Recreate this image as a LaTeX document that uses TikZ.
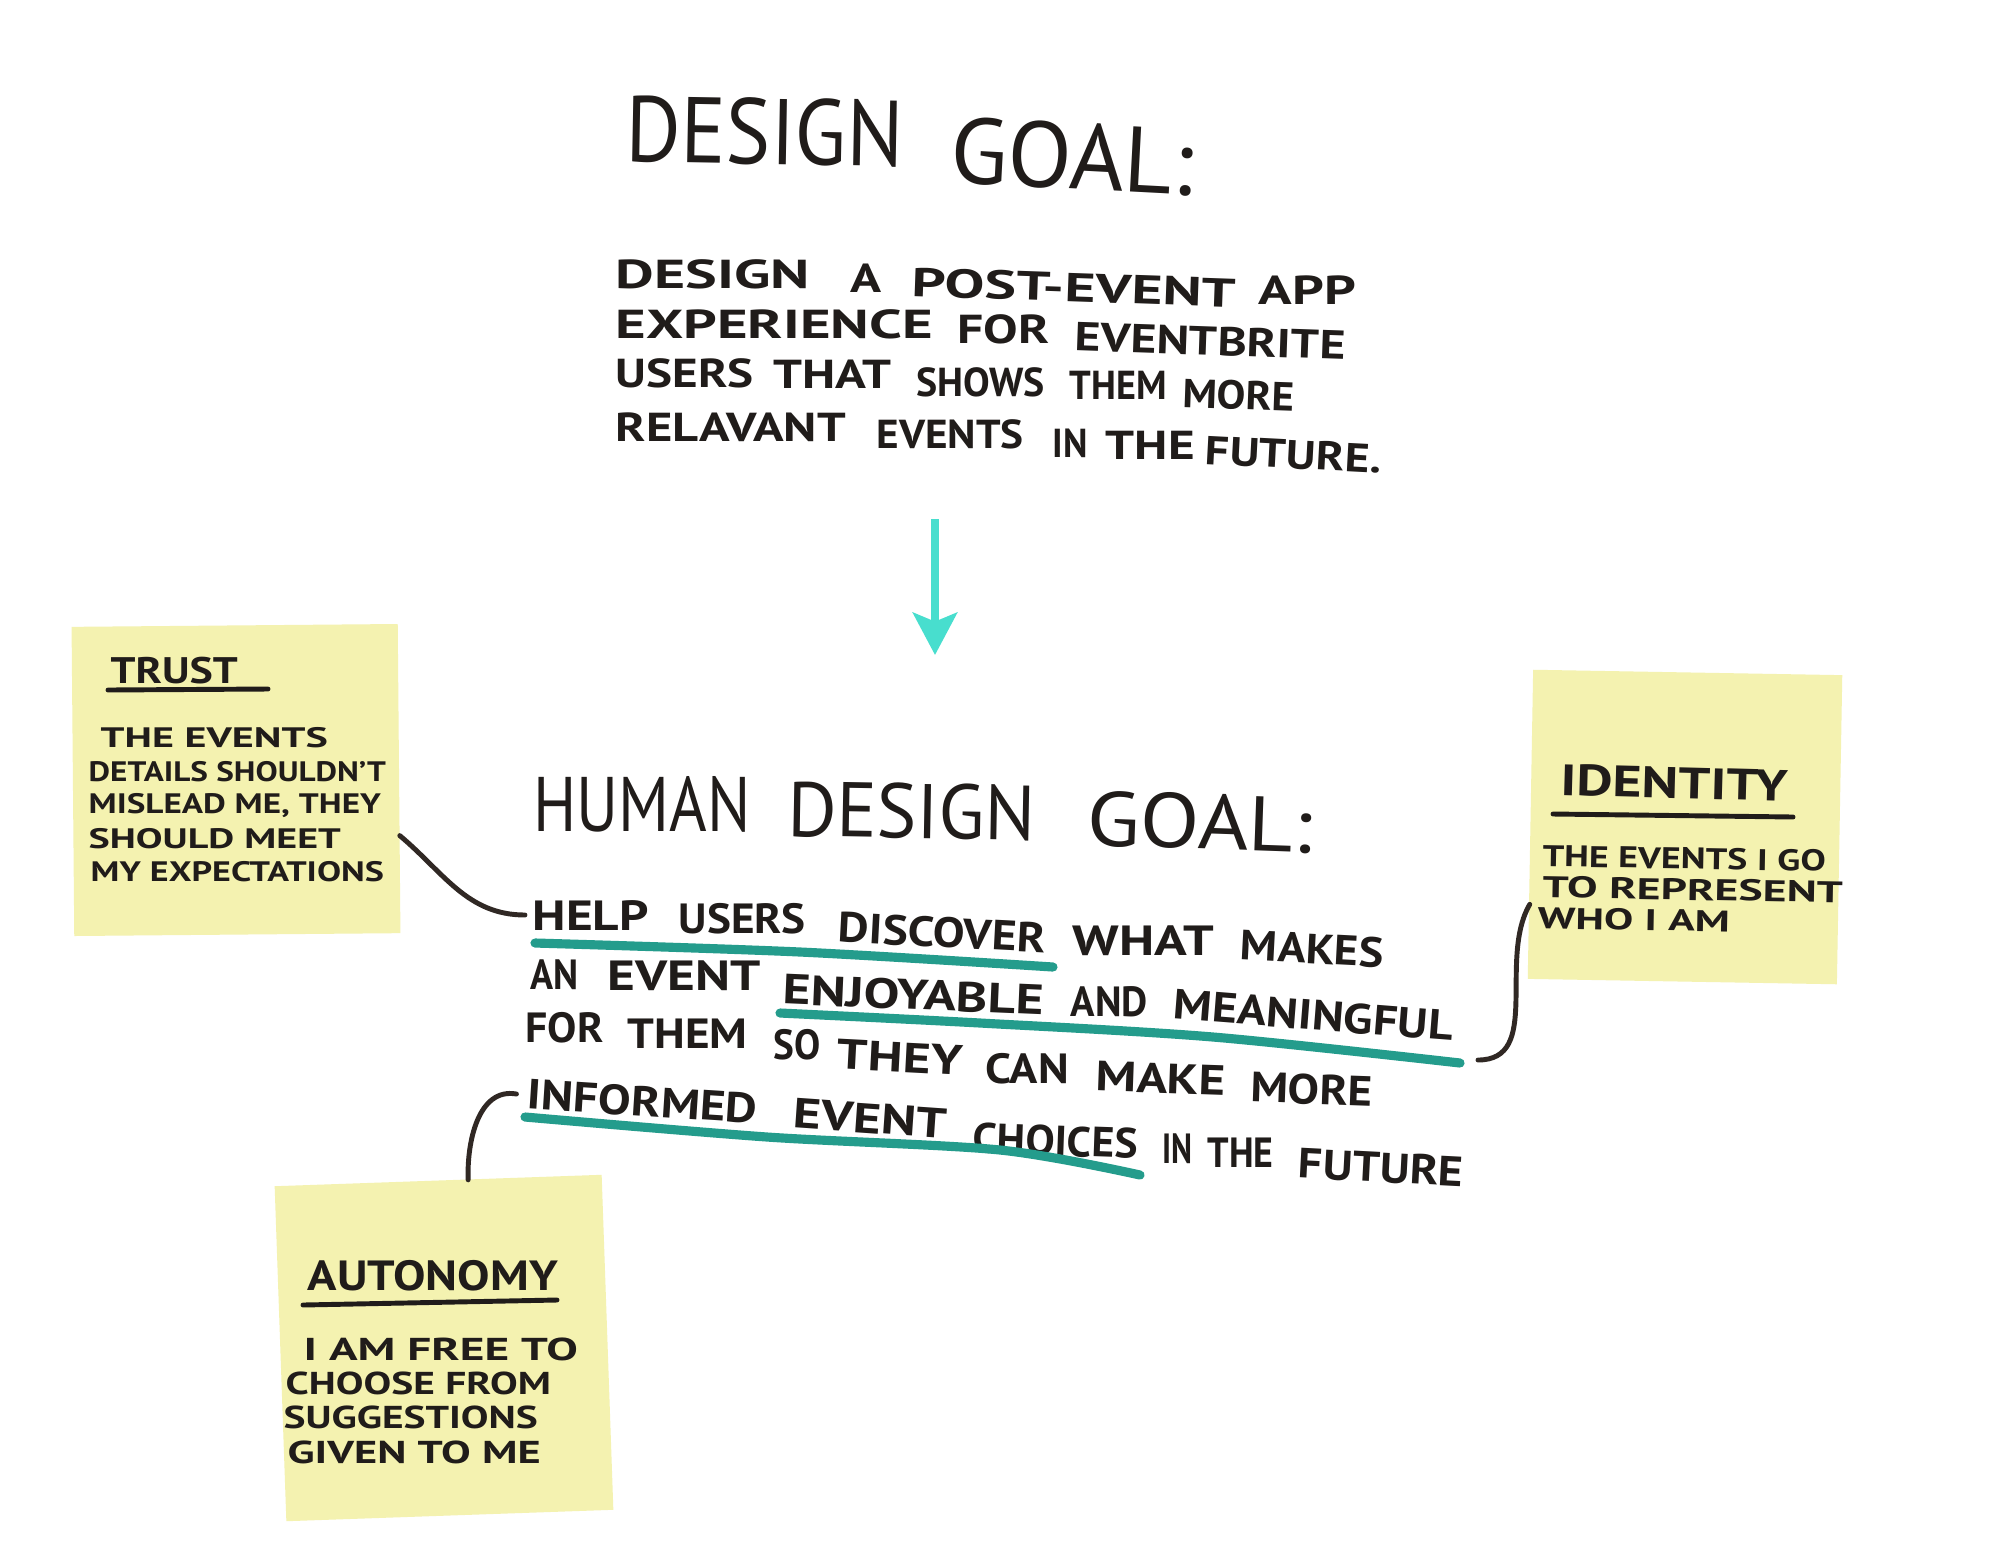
\documentclass[tikz,border=0pt]{standalone}
\usepackage{fontspec}
\setmainfont{PT Sans}
\usepackage{graphicx}
\usetikzlibrary{arrows.meta}

\definecolor{ink}{RGB}{32,28,26}
\definecolor{wire}{RGB}{48,40,36}
\definecolor{postit}{RGB}{244,242,176}
\definecolor{marker}{RGB}{36,156,140}
\definecolor{aqua}{RGB}{72,222,206}

% squeeze or stretch a handwritten word to its measured width
\newcommand{\fitw}[2]{\resizebox{#1}{\height}{#2}}

\begin{document}
\begin{tikzpicture}[x=0.01cm,y=-0.01cm,
    txt/.style={inner sep=0pt, anchor=west, text=ink},
    head/.style={txt, font=\fontsize{22}{26}\selectfont},
    body/.style={txt, font=\bfseries\fontsize{12}{14}\selectfont},
    para/.style={txt, font=\bfseries\fontsize{11.5}{14}\selectfont},
    memo/.style={txt, font=\bfseries\fontsize{8}{10}\selectfont},
    memotitle/.style={txt, font=\bfseries\fontsize{12}{14}\selectfont},
    note/.style={fill=postit, inner sep=0pt},
    bar/.style={draw=ink, line width=1.4pt, line cap=round},
    hl/.style={draw=marker, line width=2.6pt, line cap=round},
    wirel/.style={draw=wire, line width=1.4pt, line cap=round},
    flow/.style={draw=aqua, line width=2.3pt, -{Stealth[length=12pt, width=12.5pt, inset=2.5pt]}}]

\useasboundingbox[fill=white] (0, 0) rectangle (2000, 1563);

% design goal

\node[head, font=\fontsize{26.5}{30}\selectfont, rotate=-1] (goal1) at (625, 129) {\fitw{2.78cm}{DESIGN}};
\node[head, font=\fontsize{26.5}{30}\selectfont, rotate=-3] (goal2) at (950, 150) {\fitw{2.43cm}{GOAL:}};

\node[para] (pdesign) at (615, 274) {\fitw{1.94cm}{DESIGN}};
\node[para] (pa) at (850, 278) {\fitw{0.31cm}{A}};
\node[para, rotate=-2] (ppost) at (911, 282) {\fitw{3.24cm}{POST-EVENT}};
\node[para] (papp) at (1258, 290) {\fitw{0.97cm}{APP}};

\node[para] (pexp) at (615, 324) {\fitw{3.17cm}{EXPERIENCE}};
\node[para] (pfor) at (957, 329) {\fitw{0.92cm}{FOR}};
\node[para, rotate=-2] (pbrite) at (1074, 336) {\fitw{2.71cm}{EVENTBRITE}};

\node[para] (pusers) at (615, 373) {\fitw{1.38cm}{USERS}};
\node[para] (pthat) at (773, 374) {\fitw{1.18cm}{THAT}};
\node[para] (pshows) at (916, 382) {\fitw{1.28cm}{SHOWS}};
\node[para] (pthem) at (1069, 385) {\fitw{0.97cm}{THEM}};
\node[para, rotate=-2] (pmore) at (1182, 393) {\fitw{1.12cm}{MORE}};

\node[para] (prel) at (615, 427) {\fitw{2.30cm}{RELAVANT}};
\node[para] (pevents) at (876, 434) {\fitw{1.47cm}{EVENTS}};
\node[para] (pin) at (1052, 443) {\fitw{0.35cm}{IN}};
\node[para] (pthe) at (1105, 445) {\fitw{0.89cm}{THE}};
\node[para, rotate=-3] (pfuture) at (1205, 450) {\fitw{1.76cm}{FUTURE.}};

\coordinate (arrtop) at (935, 519);
\coordinate (arrtip) at (935, 655);
\draw[flow] (arrtop) -- (arrtip);

% human design goal

\node[head] (human) at (533, 804) {\fitw{2.17cm}{HUMAN}};
\node[head, rotate=-1] (hdesign) at (787, 809) {\fitw{2.48cm}{DESIGN}};
\node[head, rotate=-2] (hgoal) at (1087, 818) {\fitw{2.25cm}{GOAL:}};

\node[body] (help) at (532, 915) {\fitw{1.16cm}{HELP}};
\node[body] (users) at (678, 919) {\fitw{1.27cm}{USERS}};
\node[body, rotate=-3] (discover) at (838, 927) {\fitw{2.07cm}{DISCOVER}};
\node[body] (what) at (1072, 941) {\fitw{1.41cm}{WHAT}};
\node[body, rotate=-3] (makes) at (1240, 945) {\fitw{1.43cm}{MAKES}};

\node[body] (an) at (530, 975) {\fitw{0.48cm}{AN}};
\node[body] (event) at (607, 976) {\fitw{1.53cm}{EVENT}};
\node[body, rotate=-2.5] (enjoyable) at (782, 989) {\fitw{2.61cm}{ENJOYABLE}};
\node[body] (and) at (1070, 1002) {\fitw{0.77cm}{AND}};
\node[body, rotate=-4.5] (meaningful) at (1173, 1004) {\fitw{2.80cm}{MEANINGFUL}};

\node[body] (for) at (525, 1028) {\fitw{0.78cm}{FOR}};
\node[body] (them) at (627, 1034) {\fitw{1.20cm}{THEM}};
\node[body] (so) at (773, 1045) {\fitw{0.47cm}{SO}};
\node[body, rotate=-3] (they) at (837, 1054) {\fitw{1.25cm}{THEY}};
\node[body] (can) at (985, 1069) {\fitw{0.83cm}{CAN}};
\node[body, rotate=-2] (make) at (1095, 1076) {\fitw{1.30cm}{MAKE}};
\node[body, rotate=-2] (more) at (1250, 1087) {\fitw{1.22cm}{MORE}};

\node[body, rotate=-3.7] (informed) at (527, 1094) {\fitw{2.30cm}{INFORMED}};
\node[body, rotate=-4] (event2) at (793, 1113) {\fitw{1.54cm}{EVENT}};
\node[body, rotate=-2] (choices) at (972, 1138) {\fitw{1.65cm}{CHOICES}};
\node[body] (in) at (1162, 1149) {\fitw{0.30cm}{IN}};
\node[body] (the) at (1207, 1153) {\fitw{0.66cm}{THE}};
\node[body, rotate=-3] (future) at (1298, 1163) {\fitw{1.65cm}{FUTURE}};

\draw[hl] plot[smooth] coordinates {(535, 943) (800, 952) (1053, 967)};
\draw[hl] plot[smooth] coordinates {(780, 1013) (980, 1023) (1213, 1037) (1460, 1063)};
\draw[hl] plot[smooth] coordinates {(525, 1117) (767, 1137) (1000, 1150) (1140, 1175)};

% trust

\node[note, minimum width=3.26cm, minimum height=3.09cm, rotate=0.5] (trust) at (236, 780) {};

\node[memotitle, font=\bfseries\fontsize{10.5}{12}\selectfont] (trusthead) at (110, 671) {\fitw{1.27cm}{TRUST}};
\draw[bar] (108, 690) -- (268, 689);

\node[memo] (trust1) at (100, 738) {\fitw{2.27cm}{THE EVENTS}};
\node[memo] (trust2) at (88, 772) {\fitw{2.97cm}{DETAILS SHOULDN’T}};
\node[memo] (trust3) at (88, 806) {\fitw{2.92cm}{MISLEAD ME, THEY}};
\node[memo] (trust4) at (88, 839) {\fitw{2.52cm}{SHOULD MEET}};
\node[memo] (trust5) at (90, 872) {\fitw{2.93cm}{MY EXPECTATIONS}};

% identity

\node[note, minimum width=3.09cm, minimum height=3.09cm, rotate=-1] (identity) at (1685, 827) {};

\node[memotitle, font=\bfseries\fontsize{12.5}{14}\selectfont, rotate=-1.5] (idhead) at (1560, 780) {\fitw{2.27cm}{IDENTITY}};
\draw[bar] (1553, 814) -- (1793, 817);

\node[memo, font=\bfseries\fontsize{8.5}{10}\selectfont, rotate=-1] (id1) at (1542, 856) {\fitw{2.83cm}{THE EVENTS I GO}};
\node[memo, font=\bfseries\fontsize{8.5}{10}\selectfont, rotate=-1] (id2) at (1542, 887) {\fitw{3.0cm}{TO REPRESENT}};
\node[memo, font=\bfseries\fontsize{8.5}{10}\selectfont, rotate=-1] (id3) at (1537, 918) {\fitw{1.92cm}{WHO I AM}};

% autonomy

\node[note, minimum width=3.27cm, minimum height=3.35cm, rotate=2] (autonomy) at (444, 1348) {};

\node[memotitle] (auhead) at (307, 1276) {\fitw{2.50cm}{AUTONOMY}};
\draw[bar] (303, 1305) -- (557, 1300);

\node[memo, font=\bfseries\fontsize{9}{11}\selectfont] (au1) at (303, 1349) {\fitw{2.74cm}{I AM FREE TO}};
\node[memo, font=\bfseries\fontsize{9}{11}\selectfont] (au2) at (285, 1383) {\fitw{2.65cm}{CHOOSE FROM}};
\node[memo, font=\bfseries\fontsize{9}{11}\selectfont] (au3) at (283, 1417) {\fitw{2.54cm}{SUGGESTIONS}};
\node[memo, font=\bfseries\fontsize{9}{11}\selectfont] (au4) at (287, 1452) {\fitw{2.53cm}{GIVEN TO ME}};

% links from the notes

\coordinate (idfoot) at (1478, 1060);

\draw[wirel] ([yshift=-0.57cm]trust.east) to[out=-40, in=180] ([xshift=-2pt]help.west);
\draw[wirel] (idfoot) to[out=0, in=-120] ([yshift=-0.8cm]identity.west);
\draw[wirel] ([xshift=0.3cm]autonomy.north) to[out=92, in=170] ([xshift=-3pt]informed.west);

\end{tikzpicture}
\end{document}
